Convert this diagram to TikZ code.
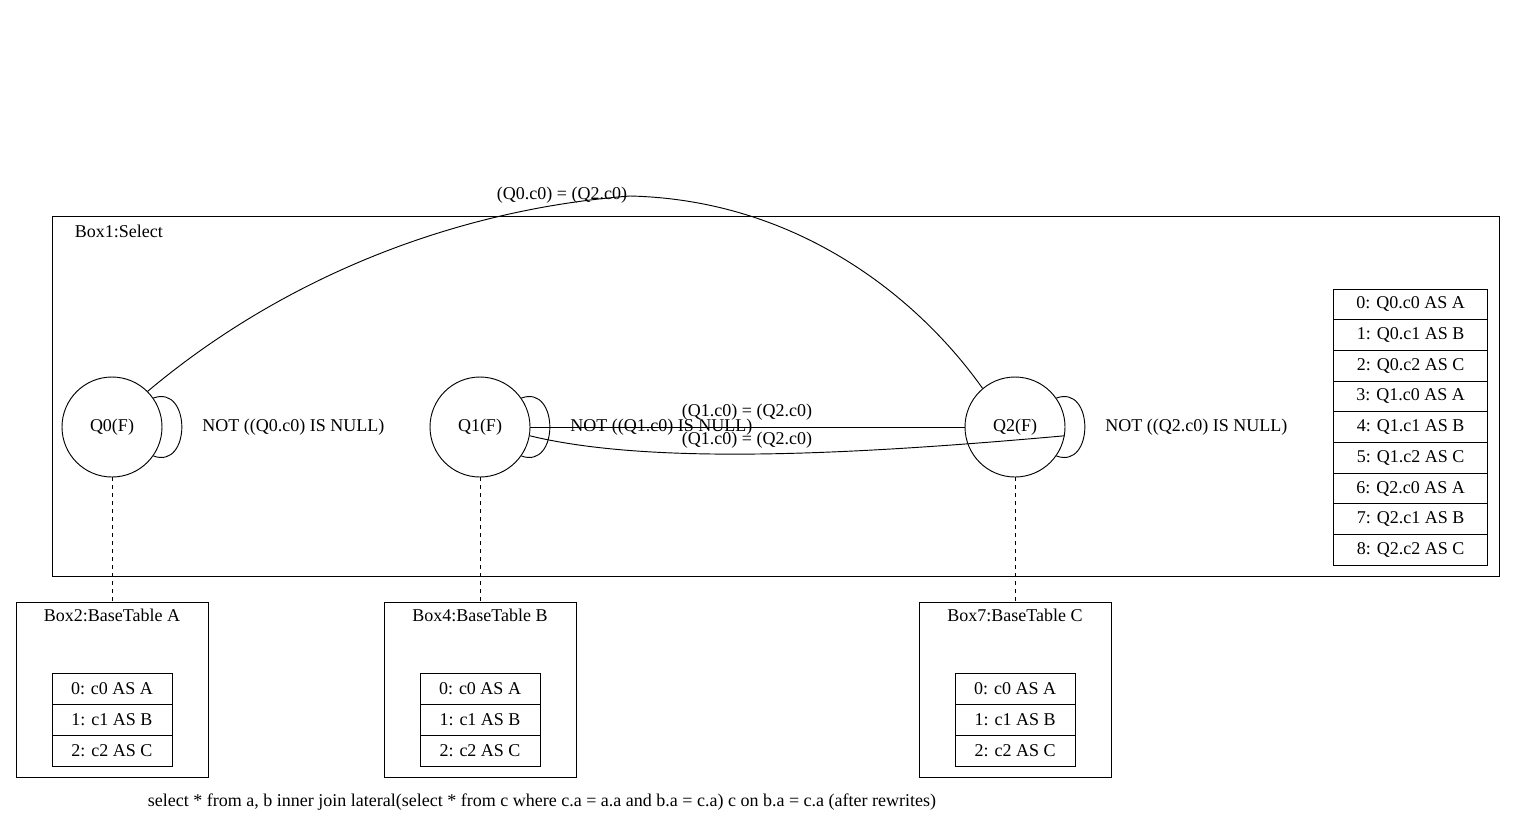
\documentclass[tikz,border=0pt]{standalone}
\usepackage{fontspec}
\setmainfont{Liberation Serif}
\begin{document}
\begin{tikzpicture}[x=0.75pt,y=-0.75pt,font=\fontsize{13.5}{15}\selectfont,line width=0.7pt,
  st/.style={circle,draw,minimum size=75pt,inner sep=0pt},
  cell/.style={draw,minimum width=#1,minimum height=23pt,inner sep=0pt},
  lbl/.style={inner sep=1pt}]
\useasboundingbox (0,0) rectangle (1515,825);
\draw (52,216) rectangle (1499,576);
\node[anchor=west] (b1) at (70,231) {Box1:Select};
\node[st] (q0) at (112,427) {Q0(F)};
\node[st] (q1) at (480,427) {Q1(F)};
\node[st] (q2) at (1015,427) {Q2(F)};
\foreach \q/\t/\x in {q0/Q0/202,q1/Q1/570,q2/Q2/1105}{
  \draw (\q.35) .. controls +(38,-14) and +(38,14) .. (\q.-35);
  \node[anchor=west,inner sep=0pt] (l\q) at (\x,427) {NOT ((\t.c0) IS NULL)};
}
\draw (q0.45) .. controls (280,280) and (450,210) .. (630,196) .. controls (800,200) and (920,300) .. (q2.130);
\node[lbl] (e1) at (562,195) {(Q0.c0) = (Q2.c0)};
\draw (q1.east) -- (q2.west);
\node[lbl] (e2) at (747,412) {(Q1.c0) = (Q2.c0)};
\draw (q1.-10) .. controls (650,465) and (850,455) .. (q2.-10);
\node[lbl] (e3) at (747,440) {(Q1.c0) = (Q2.c0)};
\foreach \i/\t in {0/Q0.c0 AS A,1/Q0.c1 AS B,2/Q0.c2 AS C,3/Q1.c0 AS A,4/Q1.c1 AS B,5/Q1.c2 AS C,6/Q2.c0 AS A,7/Q2.c1 AS B,8/Q2.c2 AS C}
  \node[cell=115pt] (r\i) at (1410.5,304.3+30.7*\i) {\i: \t};
\foreach \n/\x/\l/\q in {b2/112/A/q0,b4/480/B/q1,b7/1015/C/q2}{
  \draw (\x-96,602) rectangle (\x+96,777);
  \foreach \i/\t in {0/c0 AS A,1/c1 AS B,2/c2 AS C}
    \node[cell=90pt] (\n r\i) at (\x,689+31*\i) {\i: \t};
  \coordinate (\n top) at (\x,602);
  \draw[dashed] (\q.south) -- (\n top);
}
\node (b2) at (112,615) {Box2:BaseTable A};
\node (b4) at (480,615) {Box4:BaseTable B};
\node (b7) at (1015,615) {Box7:BaseTable C};
\node (cap) at (542,802) {select * from a, b inner join lateral(select * from c where c.a = a.a and b.a = c.a) c on b.a = c.a (after rewrites)};
\end{tikzpicture}
\end{document}
